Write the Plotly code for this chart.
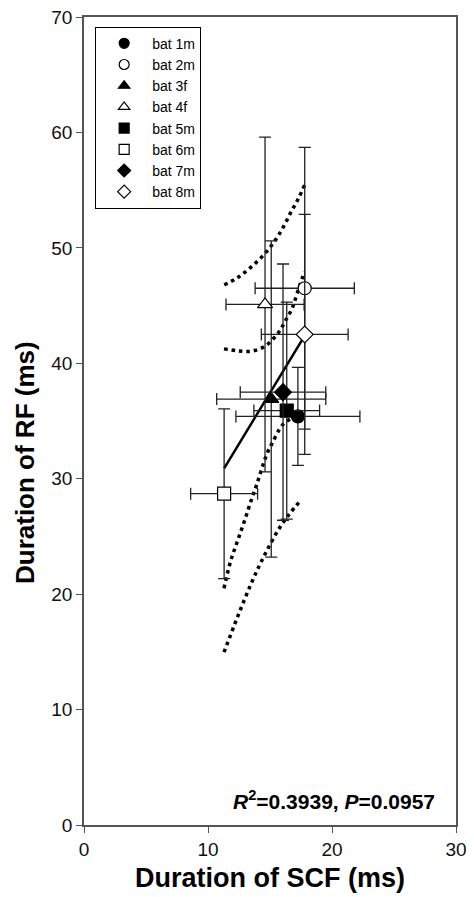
import plotly.graph_objects as go

# --- data ---
bats = ["bat 1m", "bat 2m", "bat 3f", "bat 4f", "bat 5m", "bat 6m", "bat 7m", "bat 8m"]
symbols = ["circle", "circle", "triangle-up", "triangle-up", "square", "square", "diamond", "diamond"]
filled = [True, False, True, False, True, False, True, False]

scf_mean = [17.25, 17.8, 15.1, 14.6, 16.35, 11.3, 16.05, 17.8]
scf_err = [5.0, 4.0, 4.4, 3.15, 2.65, 2.7, 3.45, 3.5]
rf_mean = [35.4, 46.5, 36.9, 45.1, 35.9, 28.7, 37.5, 42.5]
rf_err = [4.25, 12.2, 13.7, 14.5, 9.4, 7.35, 11.1, 10.4]

# regression line end points
fit_x = [11.3, 17.8]
fit_y = [30.9, 42.4]

# confidence band (inner dotted)
ci_up_x = [11.29, 12.44, 13.52, 14.60, 15.62, 16.27, 16.80, 17.20, 17.77]
ci_up_y = [41.25, 41.07, 41.05, 41.48, 42.57, 43.73, 44.80, 46.10, 47.92]
ci_lo_x = [11.29, 11.83, 12.40, 12.98, 13.52, 13.93, 14.46, 14.86, 15.19, 15.75, 16.18, 17.0, 17.8]
ci_lo_y = [20.51, 22.88, 24.67, 26.46, 28.25, 29.49, 31.28, 32.43, 33.10, 34.26, 34.84, 35.4, 35.9]

# prediction band (outer dotted)
pi_up_x = [11.31, 12.40, 13.47, 14.57, 15.43, 16.11, 16.69, 17.28, 17.8]
pi_up_y = [46.79, 47.43, 48.33, 49.48, 50.67, 51.88, 53.09, 54.25, 55.46]
pi_lo_x = [11.29, 12.36, 13.49, 14.54, 15.75, 16.53, 17.48]
pi_lo_y = [14.97, 17.96, 20.94, 23.34, 25.71, 26.89, 28.14]

FONT = "Liberation Sans, Arial, sans-serif"

fig = go.Figure()

# dotted bands
for bx, by in [(pi_up_x, pi_up_y), (pi_lo_x, pi_lo_y), (ci_up_x, ci_up_y), (ci_lo_x, ci_lo_y)]:
    fig.add_trace(go.Scatter(
        x=bx, y=by, mode="lines", showlegend=False, hoverinfo="skip",
        line=dict(color="black", width=3.5, dash="3.5px,4px", shape="spline"),
    ))

# fitted line
fig.add_trace(go.Scatter(
    x=fit_x, y=fit_y, mode="lines", showlegend=False,
    line=dict(color="black", width=2.5),
))

# bat means with SD bars
for i, name in enumerate(bats):
    mcol = "black" if filled[i] else "white"
    fig.add_trace(go.Scatter(
        x=[scf_mean[i]], y=[rf_mean[i]],
        mode="markers", name=name, showlegend=False,
        marker=dict(symbol=symbols[i], size=13, color=mcol,
                    line=dict(color="black", width=1.2)),
        error_x=dict(type="data", array=[scf_err[i]], color="#222", thickness=1.3, width=6),
        error_y=dict(type="data", array=[rf_err[i]], color="#222", thickness=1.3, width=6),
    ))
    # legend-only entry with smaller marker
    fig.add_trace(go.Scatter(
        x=[None], y=[None], mode="markers", name=name,
        marker=dict(symbol=symbols[i], size=10, color=mcol,
                    line=dict(color="black", width=1.2)),
    ))

axis_common = dict(
    showgrid=False, zeroline=False, automargin=False,
    showline=True, linecolor="#555", linewidth=1.5, mirror=True,
    ticks="outside", ticklen=6, tickcolor="#555", tickwidth=1.2,
    ticklabeloverflow="allow",
    tickfont=dict(family=FONT, size=19, color="#111"),
)

fig.update_xaxes(range=[0, 30], dtick=10, **axis_common)
fig.update_yaxes(range=[0, 70], dtick=10, **axis_common)

fig.update_layout(
    width=466, height=889,
    margin=dict(l=76, r=18, t=9, b=72),
    plot_bgcolor="white", paper_bgcolor="white",
    font=dict(family=FONT, color="black"),
    legend=dict(
        x=0.03, y=0.988, xanchor="left", yanchor="top",
        bordercolor="black", borderwidth=1, bgcolor="white",
        font=dict(family=FONT, size=14, color="black"),
        tracegroupgap=0, itemwidth=46,
    ),
    annotations=[
        dict(text="<b>Duration of SCF (ms)</b>", xref="paper", yref="paper",
             x=0.5, y=-0.066, xanchor="center", yanchor="middle", showarrow=False,
             font=dict(family=FONT, size=27, color="black")),
        dict(text="<b>Duration of RF (ms)</b>", xref="paper", yref="paper",
             x=-0.2043, y=0.448, xanchor="left", yanchor="middle", textangle=-90,
             showarrow=False, font=dict(family=FONT, size=26, color="black")),
        dict(text="<b><i>R</i><sup>2</sup>=0.3939, <i>P</i>=0.0957</b>", xref="paper", yref="paper",
             x=0.95, y=0.012, xanchor="right", yanchor="bottom", showarrow=False,
             font=dict(family=FONT, size=21, color="black")),
    ],
)

fig.write_html("out.html")
